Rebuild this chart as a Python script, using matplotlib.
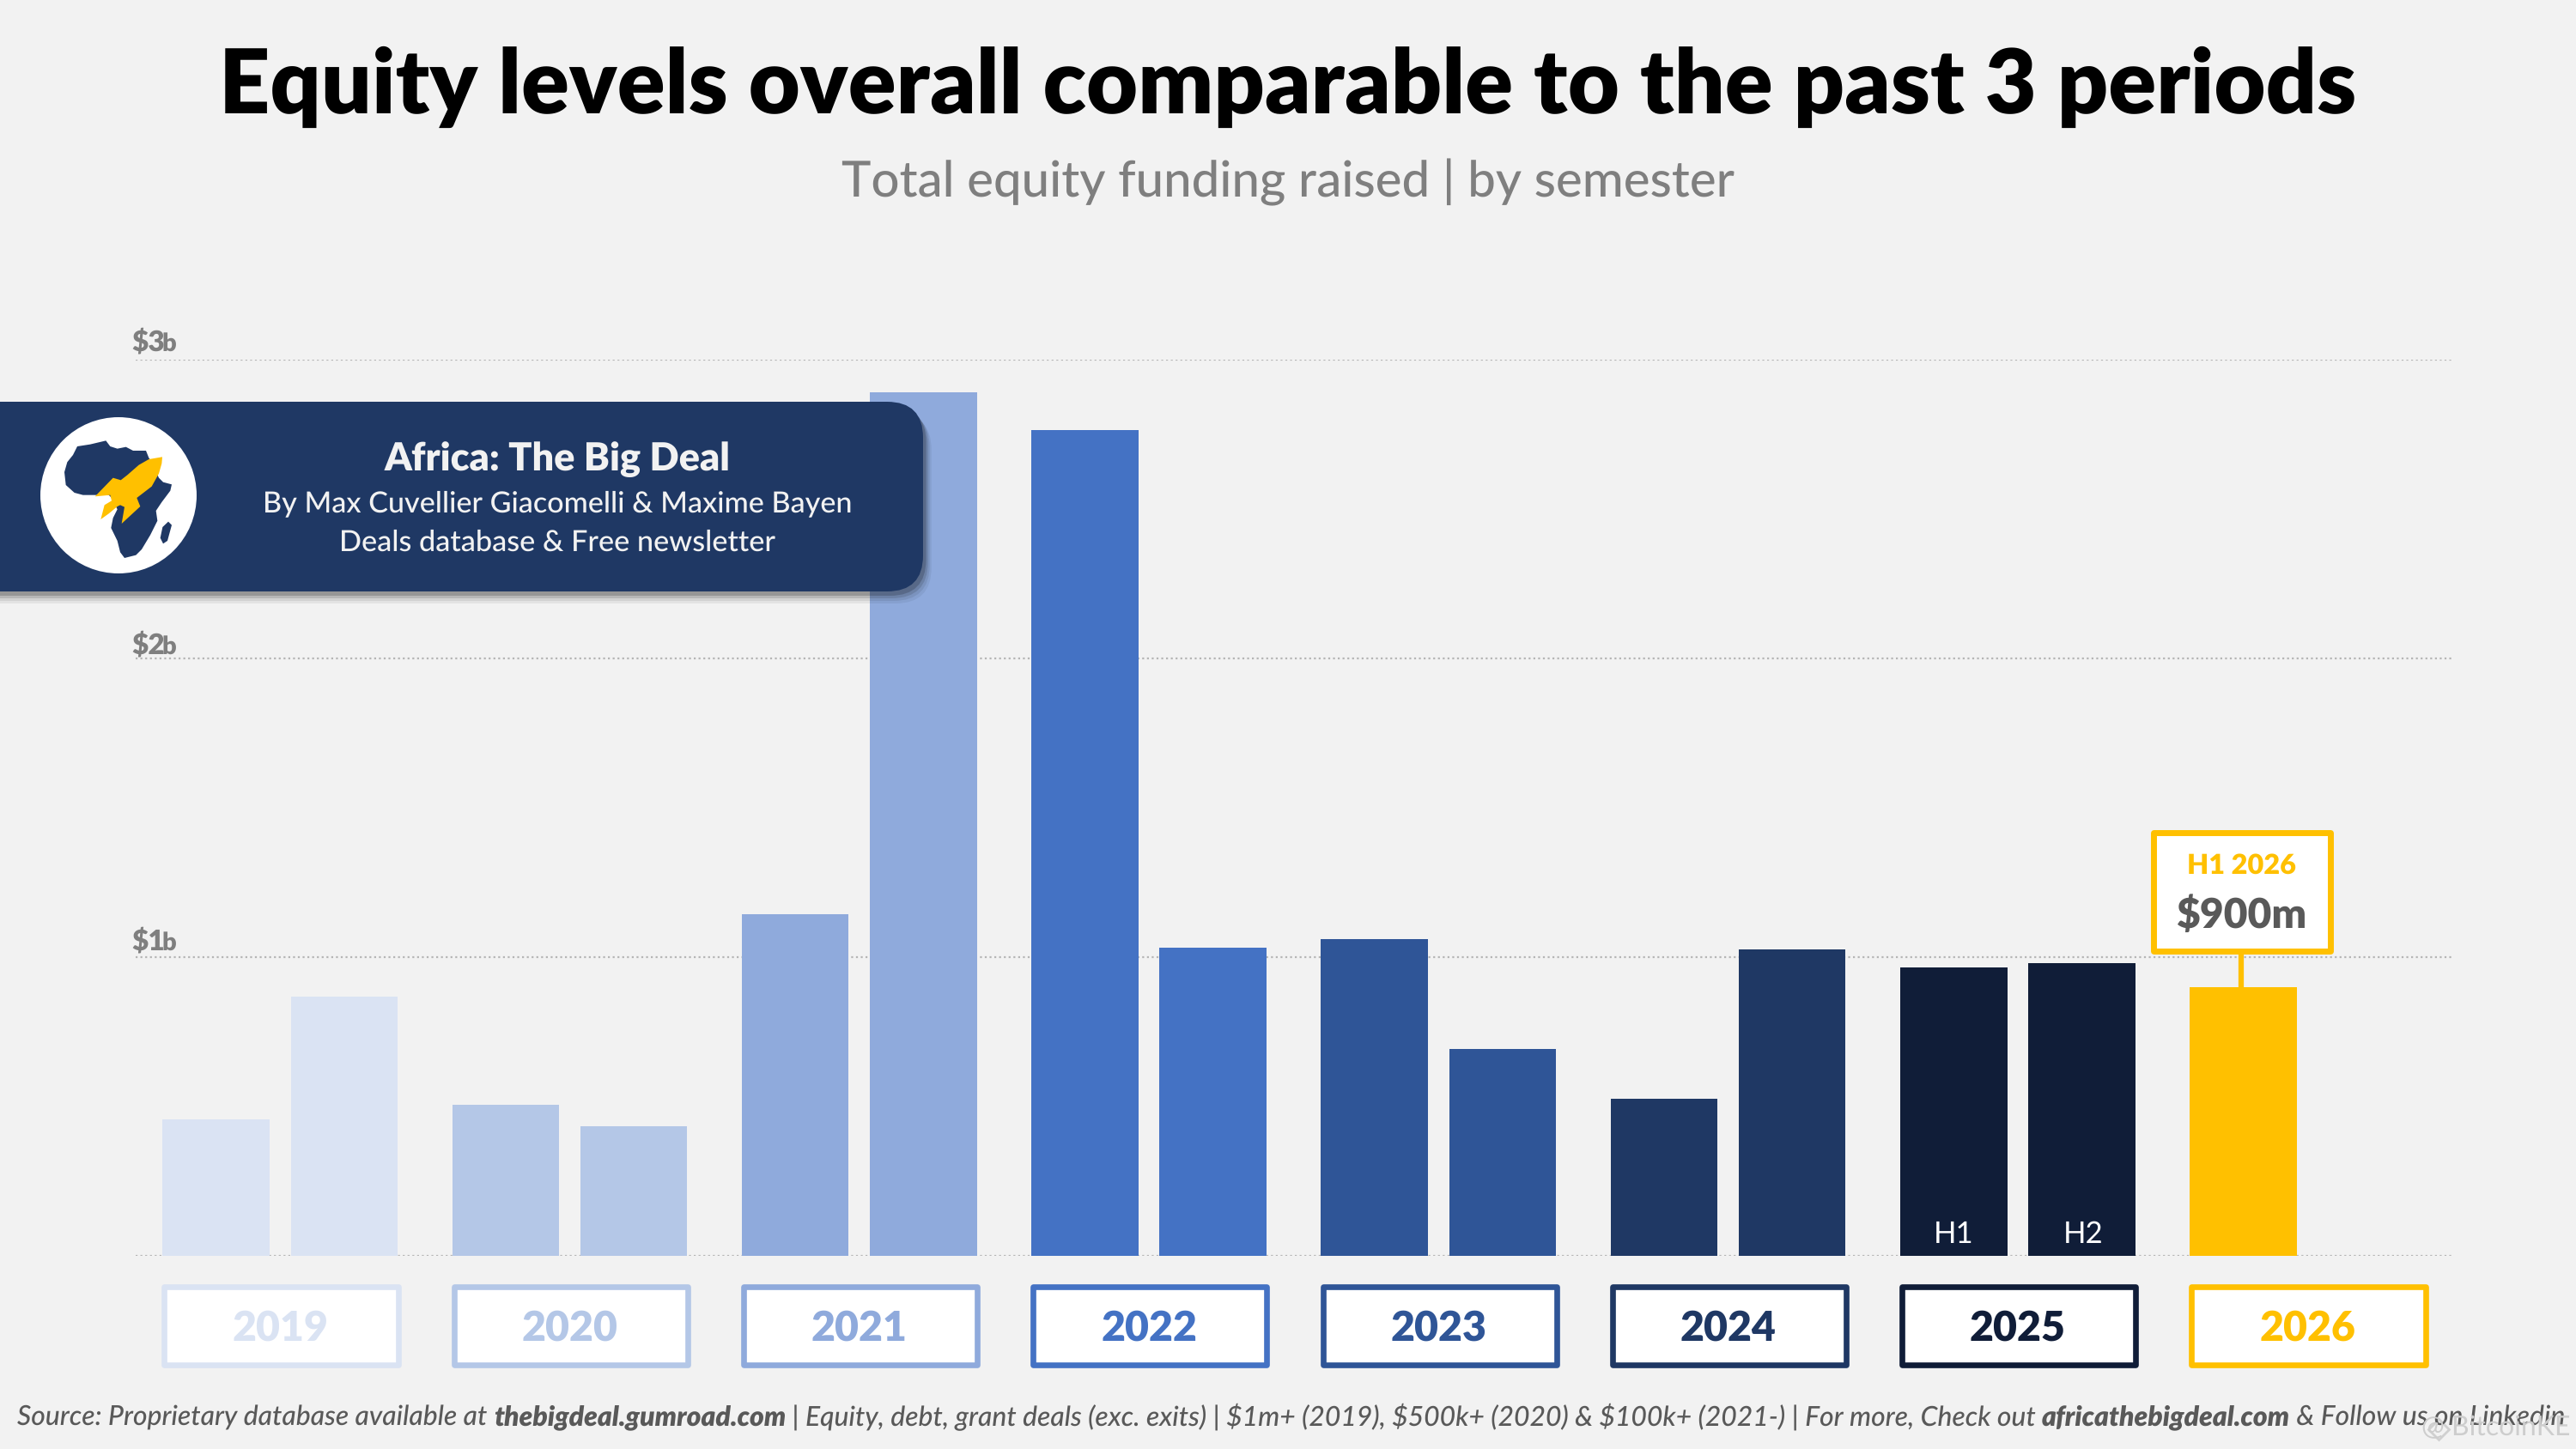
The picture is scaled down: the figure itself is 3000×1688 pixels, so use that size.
import matplotlib
matplotlib.use('Agg')
import matplotlib.pyplot as plt
from matplotlib.patches import Rectangle, FancyBboxPatch, Circle, Polygon
from matplotlib.transforms import blended_transform_factory

# no hinting, otherwise text widths jump in steps as the size changes
plt.rcParams['text.hinting'] = 'no_hinting'

# Data
years = ['2019', '2020', '2021', '2022', '2023', '2024', '2025', '2026']
h1_values = [0.456, 0.505, 1.143, 2.764, 1.06, 0.527, 0.966, 0.90]
h2_values = [0.868, 0.434, 2.89, 1.033, 0.692, 1.027, 0.98, None]
year_colors = ['#DAE3F3', '#B4C7E7', '#8FAADC', '#4472C4', '#2F5597', '#1F3864', '#101D38', '#FFC000']
y_ticks = [1, 2, 3]
y_tick_labels = ['$1', '$2', '$3']

BG = '#F2F2F2'
GREY = '#595959'
FONT = 'Lato'
BAR_OFFSET = 0.2212
BAR_WIDTH = 0.369
W, H = 3000, 1688

fig = plt.figure(figsize=(W / 100, H / 100), dpi=100, facecolor=BG)
renderer = fig.canvas.get_renderer()

# Chart axes, placed so the plot area sits where it does in the slide
left, right, base, top = 158, 2856, 1463, 419
ax = fig.add_axes([left / W, 1 - base / H, (right - left) / W, (base - top) / H])
ax.set_facecolor('none')
ax.set_xlim(-0.4985, 7.5005)
ax.set_ylim(0, 3)
for s in ax.spines.values():
    s.set_visible(False)
ax.set_xticks([])
ax.set_yticks([0] + y_ticks)
ax.tick_params(left=False, labelleft=False)
ax.grid(axis='y', color='#B5B5B5', linestyle=(0, (1, 1.5)), linewidth=1.6, zorder=0)
ax.set_axisbelow(True)

# Overlay in pixel coordinates for the slide furniture
ov = fig.add_axes([0, 0, 1, 1], facecolor='none', zorder=5)
ov.set_xlim(0, W)
ov.set_ylim(H, 0)
ov.axis('off')


def text_width(s, size, **kw):
    # width between two markers so that leading/trailing spaces count
    a = ov.text(0, 0, 'x' + s + 'x', fontsize=size, family=FONT, **kw)
    b = ov.text(0, 0, 'xx', fontsize=size, family=FONT, **kw)
    w = a.get_window_extent(renderer).width - b.get_window_extent(renderer).width
    a.remove()
    b.remove()
    return w


def fit_text(x, y, s, width, **kw):
    # real text, sized so it spans the width it has in the reference
    size = 100 * width / text_width(s, 100, **{k: v for k, v in kw.items() if k in ('weight', 'style')})
    return ov.text(x, y, s, fontsize=size, family=FONT, ha='center', va='center', **kw)


# Bars
for i, year in enumerate(years):
    ax.bar(i - BAR_OFFSET, h1_values[i], BAR_WIDTH, color=year_colors[i], zorder=3)
    if h2_values[i] is not None:
        ax.bar(i + BAR_OFFSET, h2_values[i], BAR_WIDTH, color=year_colors[i], zorder=3)

# H1 / H2 labels inside the 2025 bars
tr = blended_transform_factory(ax.transData, ov.transData)
ax.text(6 - BAR_OFFSET, 0.072, 'H1', color='white', fontsize=25, family=FONT, ha='center', va='center', zorder=4)
ax.text(6 + BAR_OFFSET + 0.004, 0.072, 'H2', color='white', fontsize=25, family=FONT, ha='center', va='center', zorder=4)

# Y labels above the gridlines (the gap is not quite the same on each one)
for v, lab, gap in zip(y_ticks, y_tick_labels, [8, 5, 10]):
    ax.annotate(lab, (0, v), xycoords=('axes fraction', 'data'), xytext=(-5, gap), textcoords='offset pixels',
                fontsize=24, weight='heavy', color='#7F7F7F', family=FONT, ha='left', va='baseline')
    ax.annotate('b', (0, v), xycoords=('axes fraction', 'data'), xytext=(30, gap), textcoords='offset pixels',
                fontsize=21, weight='heavy', color='#7F7F7F', family=FONT, ha='left', va='baseline')

# Year boxes
half = 0.4035
for i, year in enumerate(years):
    ov.add_patch(Rectangle((i - half + 0.004, 1499), 2 * half, 91, transform=tr, facecolor='white',
                           edgecolor=year_colors[i], linewidth=4.8, joinstyle='round'))
    t = fit_text(0, 1548, year, 112, weight='heavy', color=year_colors[i])
    t.set_transform(tr)
    t.set_x(i)

# Callout for the latest semester
ov.plot([2610, 2610], [1108, 1152], color='#FFC000', linewidth=4.5, solid_capstyle='butt')
ov.add_patch(Rectangle((2508, 970), 206, 138, facecolor='white', edgecolor='#FFC000', linewidth=5, joinstyle='round'))
fit_text(2610, 1008, 'H1 2026', 127, weight='heavy', color='#FFC000')
fit_text(2610, 1066, '$900m', 152, weight='heavy', color=GREY)

# Titles
fit_text(1500, 101, 'Equity levels overall comparable to the past 3 periods', 2490, weight='heavy', color='black')
fit_text(1500, 212, 'Total equity funding raised | by semester', 1039, weight='medium', color='#7F7F7F')

# Banner with soft shadow
for off, a in [(14, 0.06), (11, 0.08), (8, 0.12), (5, 0.18)]:
    ov.add_patch(FancyBboxPatch((-100, 468 + off), 1175 + off * 0.7, 221, boxstyle='round,pad=0,rounding_size=42',
                                facecolor='black', edgecolor='none', alpha=a))
ov.add_patch(FancyBboxPatch((-100, 468), 1175, 221, boxstyle='round,pad=0,rounding_size=42',
                            facecolor='#1F3864', edgecolor='none'))
ov.add_patch(Circle((138, 577), 91, facecolor='white', edgecolor='none'))


def logo_xy(pts):
    return [(30 + x / 3, 470 + y / 3) for x, y in pts]


africa = [(180, 150), (225, 143), (280, 130), (295, 150), (320, 158), (350, 152), (375, 165), (420, 165), (430, 190),
          (440, 205), (465, 260), (480, 275), (510, 283), (505, 305), (475, 345), (455, 375), (460, 410), (435, 460),
          (405, 510), (385, 530), (345, 540), (330, 520), (320, 480), (298, 435), (305, 400), (320, 370), (300, 330),
          (290, 320), (240, 320), (200, 320), (170, 312), (140, 285), (135, 240), (145, 205), (165, 180)]
madagascar = [(498, 413), (510, 425), (495, 480), (480, 490), (470, 470), (478, 432)]
rocket = [(477, 187), (430, 195), (395, 215), (355, 250), (332, 268), (305, 260), (242, 325), (295, 320), (300, 340),
          (275, 355), (262, 405), (290, 385), (320, 360), (330, 355), (345, 362), (335, 420), (400, 360), (388, 330),
          (440, 290), (465, 245), (475, 210)]
ov.add_patch(Polygon(logo_xy(africa), facecolor='#1F3864', edgecolor='none', joinstyle='round'))
ov.add_patch(Polygon(logo_xy(madagascar), facecolor='#1F3864', edgecolor='none', joinstyle='round'))
ov.add_patch(Polygon(logo_xy(rocket), facecolor='#FFC000', edgecolor='none'))

fit_text(649, 535, 'Africa: The Big Deal', 403, weight='heavy', color='#F2F2F2')
fit_text(649, 587, 'By Max Cuvellier Giacomelli & Maxime Bayen', 686, weight='medium', color='#F2F2F2')
fit_text(649, 632, 'Deals database & Free newsletter', 509, weight='medium', color='#F2F2F2')

# Footer, mixed italic and bold italic
footer = [('Source: Proprietary database available at ', 'medium'),
          ('thebigdeal.gumroad.com', 'heavy'),
          (' | Equity, debt, grant deals (exc. exits) | $1m+ (2019), $500k+ (2020) & $100k+ (2021-) | For more, Check out ', 'medium'),
          ('africathebigdeal.com', 'heavy'),
          (' & Follow us on Linkedin', 'medium')]
total = sum(text_width(s.replace('$', r'\$'), 100, weight=w, style='italic') for s, w in footer)
size = 100 * 2962 / total
x = 20
for s, w in footer:
    s = s.replace('$', r'\$')
    ov.text(x, 1651, s, fontsize=size, family=FONT, weight=w, style='italic', color=GREY, ha='left', va='center')
    x += text_width(s, size, weight=w, style='italic')

# Watermark in the corner
ov.plot([2840], [1665], marker='D', markersize=12, markerfacecolor='none', markeredgecolor='#D0D0D0', markeredgewidth=2)
ov.text(2993, 1663, '@ BitcoinKE', fontsize=23, family=FONT, color='#CDCDCD', ha='right', va='center')

fig.savefig('out.png', dpi=100, facecolor=BG)
